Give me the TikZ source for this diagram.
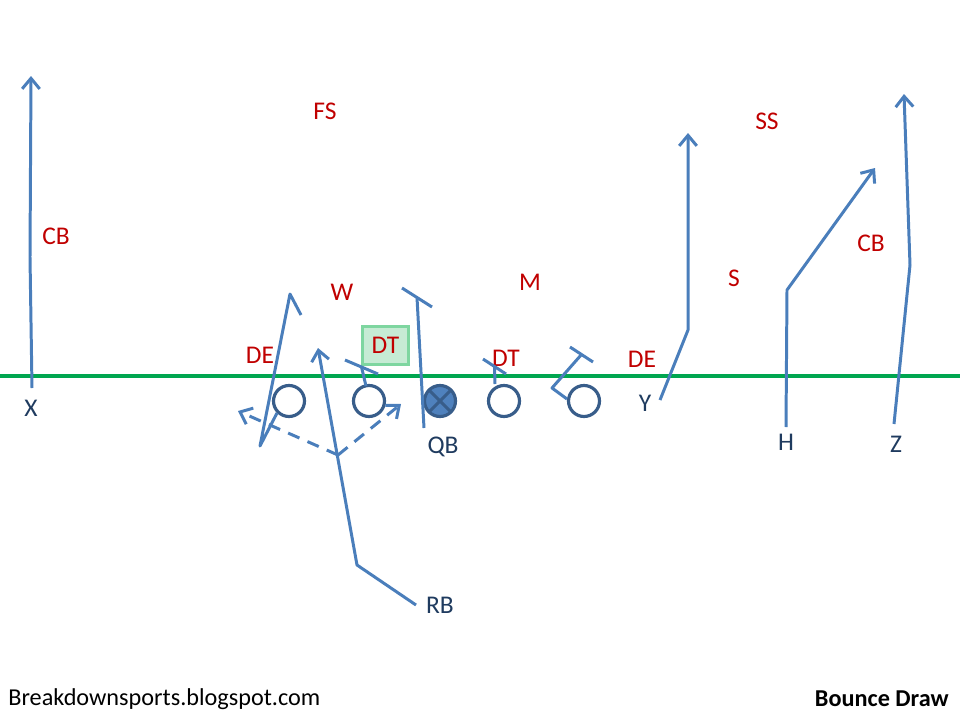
\documentclass[tikz,border=0pt]{standalone}
\usepackage{fontspec}
\setmainfont{Carlito}
\usetikzlibrary{arrows.meta}
\definecolor{routec}{HTML}{4A7EBB}
\definecolor{olc}{HTML}{385D8A}
\definecolor{qbfill}{HTML}{4F81BD}
\definecolor{defc}{HTML}{C00000}
\definecolor{offc}{HTML}{1F3B5F}
\definecolor{losc}{HTML}{00A650}
\definecolor{dtfill}{HTML}{C6EBD4}
\definecolor{dtdraw}{HTML}{7ED6A0}
\begin{document}
\begin{tikzpicture}[x=0.02cm,y=-0.02cm,
  route/.style={draw=routec, line width=1.7pt, line join=round},
  rarrow/.style={route, -{Straight Barb[length=6pt,width=10pt,line width=1.7pt]}},
  dasharrow/.style={rarrow, dash pattern=on 7pt off 5pt},
  lineman/.style={circle, draw=olc, line width=1.8pt, fill=white, minimum size=0.62cm, inner sep=0pt},
  deflab/.style={text=defc, font=\fontsize{14.5}{16}\selectfont, inner sep=0pt},
  offlab/.style={text=offc, font=\fontsize{14.5}{16}\selectfont, inner sep=0pt},
  foot/.style={text=black, font=\fontsize{13.8}{16}\selectfont, inner sep=0pt}]
\useasboundingbox (0,0) rectangle (960,720);
% line of scrimmage
\coordinate (losL) at (0,376);
\coordinate (losR) at (960,376);
\draw[draw=losc, line width=2pt] (losL) -- (losR);

% defense labels
\node[deflab] (fs) at (325,111) {FS};
\node[deflab] (ss) at (767,121) {SS};
\node[deflab] (cbl) at (56,236) {CB};
\node[deflab] (w) at (342,292) {W};
\node[deflab] (m) at (530,282) {M};
\node[deflab] (s) at (734,278) {S};
\node[deflab] (cbr) at (871,243) {CB};
\node[deflab] (del) at (260,355) {DE};
\node[deflab, fill=dtfill, draw=dtdraw, line width=1.6pt, minimum width=0.92cm, minimum height=0.76cm] (dtl) at (385.5,345.5) {DT};
\node[deflab] (dtr) at (506,358) {DT};
\node[deflab] (der) at (642,359) {DE};

% offense
\node[lineman] (lt) at (289,401) {};
\node[lineman] (lg) at (369,401) {};
\node[lineman, fill=qbfill, path picture={
   \draw[olc, line width=1.8pt] (path picture bounding box.north west) -- (path picture bounding box.south east);
   \draw[olc, line width=1.8pt] (path picture bounding box.north east) -- (path picture bounding box.south west);}] (c) at (440,401) {};
\node[lineman] (rg) at (504,401) {};
\node[lineman] (rt) at (584,401) {};

\node[offlab] (xl) at (31,408) {X};
\node[offlab] (qb) at (443,447) {QB};
\node[offlab] (yl) at (645,403) {Y};
\node[offlab] (hl) at (786,442) {H};
\node[offlab] (zl) at (896,444) {Z};
\node[offlab] (rb) at (440,605) {RB};

% route coordinates
\coordinate (x0) at (32,388); \coordinate (x1) at (30,257); \coordinate (x2) at (31,76);
\coordinate (y0) at (660,400); \coordinate (y1) at (688,330); \coordinate (y2) at (688,133);
\coordinate (h0) at (786,427); \coordinate (h1) at (787,290); \coordinate (h2) at (875,168);
\coordinate (z0) at (894,424); \coordinate (z1) at (910,265); \coordinate (z2) at (904,94);
\coordinate (rb0) at (416,605); \coordinate (rb1) at (357,565); \coordinate (rb2) at (318,348);
\coordinate (mesh) at (338,455); \coordinate (dl) at (238,411); \coordinate (dr) at (401,404);
% blocks
\coordinate (lt0) at (277,413); \coordinate (lt1) at (260,446); \coordinate (lt2) at (290,294);
\coordinate (ltb) at (301,315);
\coordinate (lg0) at (366,386); \coordinate (lg1) at (361.5,367);
\coordinate (lga) at (345,360); \coordinate (lgb) at (378,374);
\coordinate (c0) at (424,428); \coordinate (c1) at (417,297.5);
\coordinate (ca) at (402,288); \coordinate (cb) at (432,307);
\coordinate (rg0) at (495,384); \coordinate (rg1) at (494.5,366.5);
\coordinate (rga) at (483,359); \coordinate (rgb) at (506,374);
\coordinate (rt0) at (567,399); \coordinate (rt1) at (552,388); \coordinate (rt2) at (581.5,354.5);
\coordinate (rta) at (570,347); \coordinate (rtb) at (593,362);

% routes
\draw[rarrow] (x0) -- (x1) -- (x2);
\draw[rarrow] (y0) -- (y1) -- (y2);
\draw[rarrow] (h0) -- (h1) -- (h2);
\draw[rarrow] (z0) -- (z1) -- (z2);
\draw[rarrow] (rb0) -- (rb1) -- (rb2);
\draw[dasharrow] (mesh) -- (dl);
\draw[dasharrow] (mesh) -- (dr);
% blocks
\draw[route] (lt0) -- (lt1) -- (lt2) -- (ltb);
\draw[route] (lg0) -- (lg1); \draw[route] (lga) -- (lgb);
\draw[route] (c0) -- (c1); \draw[route] (ca) -- (cb);
\draw[route] (rg0) -- (rg1); \draw[route] (rga) -- (rgb);
\draw[route] (rt0) -- (rt1) -- (rt2); \draw[route] (rta) -- (rtb);

% footer
\node[foot, anchor=west] (site) at (8,699) {Breakdownsports.blogspot.com};
\node[foot, anchor=east, font=\fontsize{13.8}{16}\selectfont\bfseries] (title) at (949,699) {Bounce Draw};
\end{tikzpicture}
\end{document}
